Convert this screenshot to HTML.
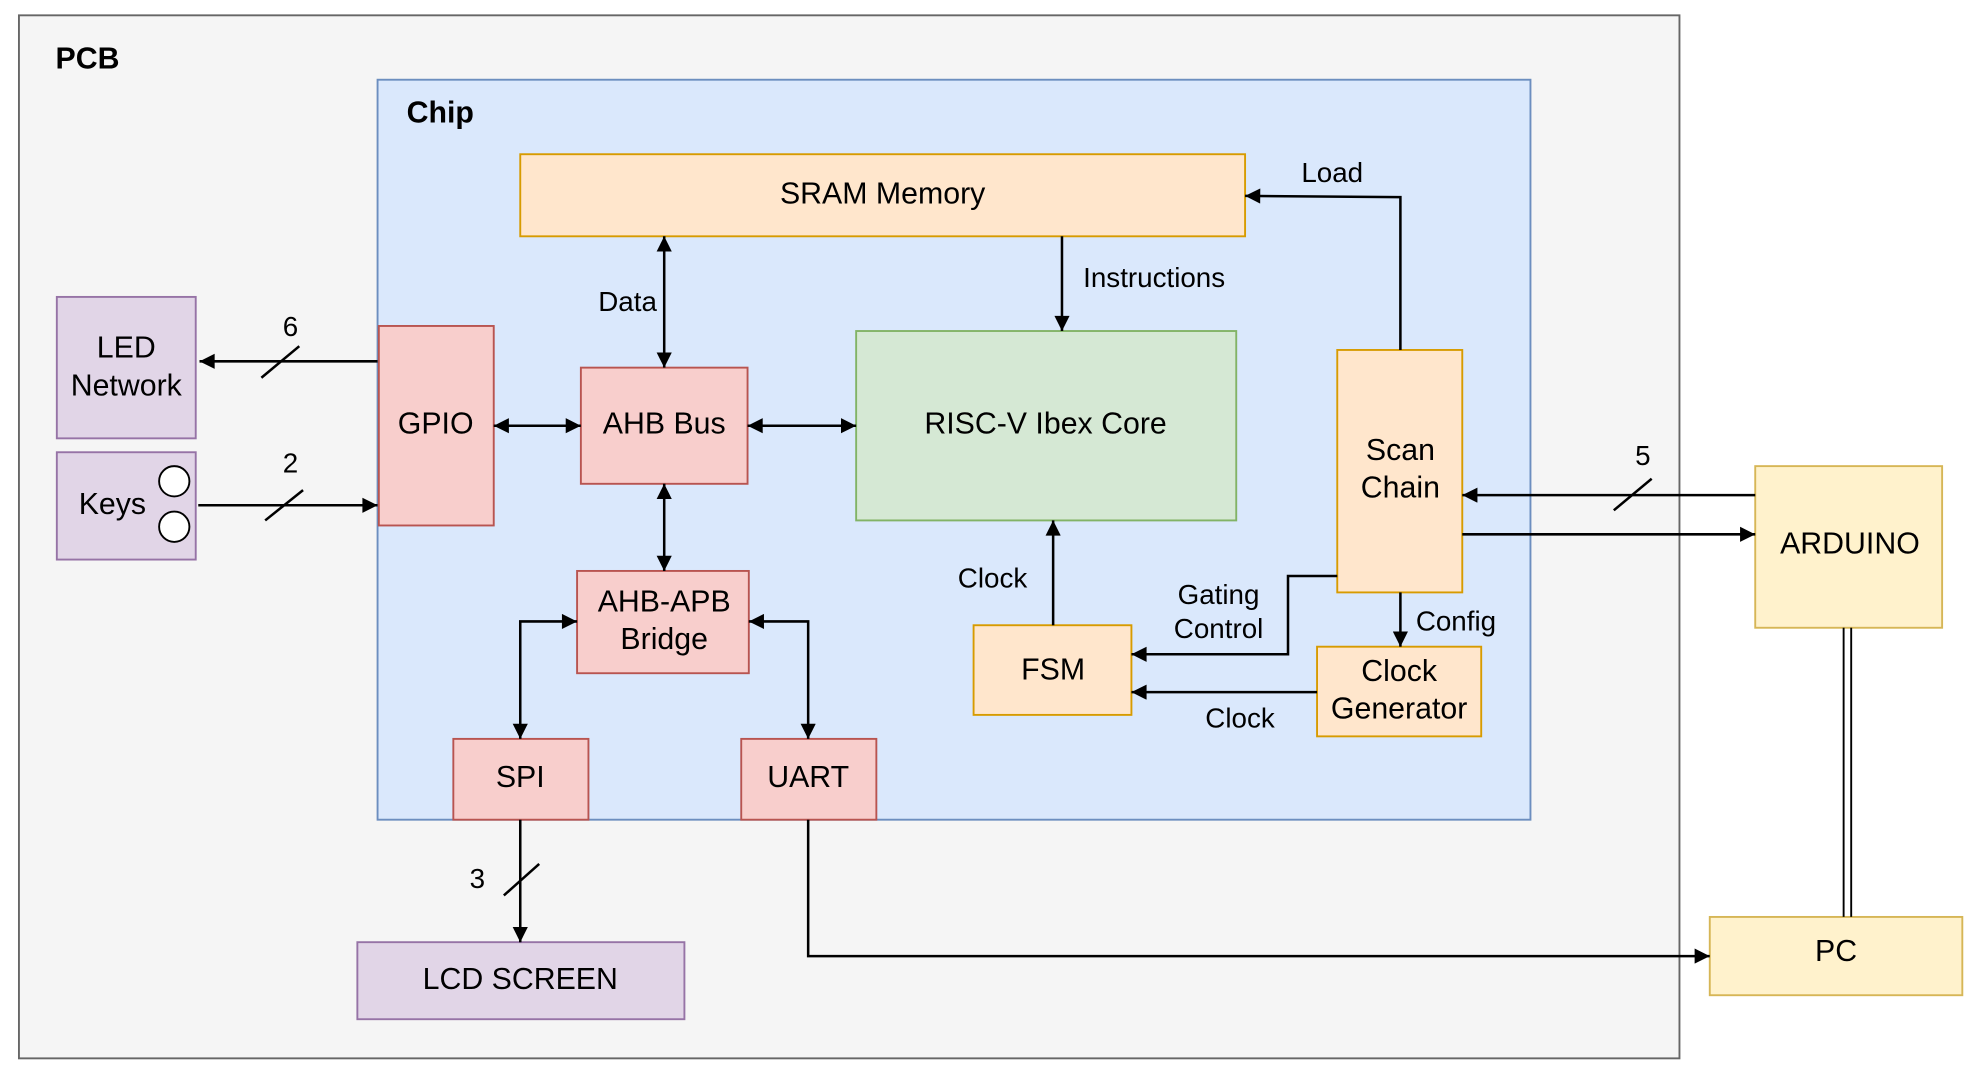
<!DOCTYPE html>
<html><head><meta charset="utf-8"><style>html,body{margin:0;padding:0;background:#fff}svg{display:block}</style></head>
<body>
<svg width="1980" height="1080" viewBox="0 0 1568 855" xmlns="http://www.w3.org/2000/svg" font-family="Liberation Sans, Arial, sans-serif">
<defs>
<marker id="a" viewBox="0 0 10 10" refX="10" refY="5" markerWidth="13" markerHeight="12" markerUnits="userSpaceOnUse" orient="auto-start-reverse"><path d="M0,0 L10,5 L0,10 z" fill="#000"/></marker>
</defs>
<rect x="15" y="12" width="1315" height="826" fill="#f5f5f5" stroke="#666" stroke-width="1.5"/>
<text x="44" y="54" font-size="24" font-weight="bold">PCB</text>
<rect x="299" y="63" width="913" height="586" fill="#dae8fc" stroke="#6c8ebf" stroke-width="1.5"/>
<text x="322" y="97" font-size="24" font-weight="bold">Chip</text>

<g stroke-width="1.5" font-size="24" text-anchor="middle">
<rect x="412" y="122" width="574" height="65" fill="#ffe6cc" stroke="#d79b00"/>
<text x="699" y="161" stroke="none">SRAM Memory</text>
<rect x="678" y="262" width="301" height="150" fill="#d5e8d4" stroke="#82b366"/>
<text x="828" y="343">RISC-V Ibex Core</text>
<rect x="300" y="258" width="91" height="158" fill="#f8cecc" stroke="#b85450"/>
<text x="345" y="343">GPIO</text>
<rect x="460" y="291" width="132" height="92" fill="#f8cecc" stroke="#b85450"/>
<text x="526" y="343">AHB Bus</text>
<rect x="457" y="452" width="136" height="81" fill="#f8cecc" stroke="#b85450"/>
<text x="526" y="484">AHB-APB</text><text x="526" y="514">Bridge</text>
<rect x="359" y="585" width="107" height="64" fill="#f8cecc" stroke="#b85450"/>
<text x="412" y="623">SPI</text>
<rect x="587" y="585" width="107" height="64" fill="#f8cecc" stroke="#b85450"/>
<text x="640" y="623">UART</text>
<rect x="771" y="495" width="125" height="71" fill="#ffe6cc" stroke="#d79b00"/>
<text x="834" y="538">FSM</text>
<rect x="1059" y="277" width="99" height="192" fill="#ffe6cc" stroke="#d79b00"/>
<text x="1109" y="364">Scan</text><text x="1109" y="394">Chain</text>
<rect x="1043" y="512" width="130" height="71" fill="#ffe6cc" stroke="#d79b00"/>
<text x="1108" y="539">Clock</text><text x="1108" y="569">Generator</text>
<rect x="45" y="235" width="110" height="112" fill="#e1d5e7" stroke="#9673a6"/>
<text x="100" y="283">LED</text><text x="100" y="313">Network</text>
<rect x="45" y="358" width="110" height="85" fill="#e1d5e7" stroke="#9673a6"/>
<text x="89" y="407">Keys</text>
<circle cx="138" cy="381" r="12" fill="#fff" stroke="#000"/>
<circle cx="138" cy="417" r="12" fill="#fff" stroke="#000"/>
<rect x="283" y="746" width="259" height="61" fill="#e1d5e7" stroke="#9673a6"/>
<text x="412" y="783">LCD SCREEN</text>
<rect x="1390" y="369" width="148" height="128" fill="#fff2cc" stroke="#d6b656"/>
<text x="1465" y="438">ARDUINO</text>
<rect x="1354" y="726" width="200" height="62" fill="#fff2cc" stroke="#d6b656"/>
<text x="1454" y="761">PC</text>
</g>

<g stroke="#000" stroke-width="2" fill="none">
<line x1="299" y1="286" x2="158" y2="286" marker-end="url(#a)"/>
<line x1="207" y1="299" x2="237" y2="274"/>
<line x1="157" y1="400" x2="299" y2="400" marker-end="url(#a)"/>
<line x1="210" y1="412" x2="240" y2="388"/>
<line x1="391" y1="337" x2="460" y2="337" marker-start="url(#a)" marker-end="url(#a)"/>
<line x1="592" y1="337" x2="678" y2="337" marker-start="url(#a)" marker-end="url(#a)"/>
<line x1="526" y1="187" x2="526" y2="291" marker-start="url(#a)" marker-end="url(#a)"/>
<line x1="841" y1="187" x2="841" y2="262" marker-end="url(#a)"/>
<line x1="526" y1="383" x2="526" y2="452" marker-start="url(#a)" marker-end="url(#a)"/>
<polyline points="457,492 412,492 412,585" marker-start="url(#a)" marker-end="url(#a)"/>
<polyline points="593,492 640,492 640,585" marker-start="url(#a)" marker-end="url(#a)"/>
<line x1="412" y1="649" x2="412" y2="746" marker-end="url(#a)"/>
<line x1="399" y1="709" x2="427" y2="684"/>
<polyline points="640,649 640,757 1354,757" marker-end="url(#a)"/>
<line x1="834" y1="495" x2="834" y2="412" marker-end="url(#a)"/>
<polyline points="1109,277 1109,156 986,155" marker-end="url(#a)"/>
<polyline points="1059,456 1020,456 1020,518 896,518" marker-end="url(#a)"/>
<line x1="1109" y1="469" x2="1109" y2="512" marker-end="url(#a)"/>
<line x1="1043" y1="548" x2="896" y2="548" marker-end="url(#a)"/>
<line x1="1390" y1="392" x2="1158" y2="392" marker-end="url(#a)"/>
<line x1="1278" y1="404" x2="1308" y2="379"/>
<line x1="1158" y1="423" x2="1390" y2="423" marker-end="url(#a)"/>
<line x1="1460" y1="497" x2="1460" y2="726" stroke-width="1.5"/>
<line x1="1466" y1="497" x2="1466" y2="726" stroke-width="1.5"/>
</g>

<g font-size="22" text-anchor="middle">
<text x="230" y="266">6</text>
<text x="230" y="374">2</text>
<text x="378" y="703">3</text>
<text x="1301" y="368">5</text>
<text x="497" y="246">Data</text>
<text x="914" y="227">Instructions</text>
<text x="786" y="465">Clock</text>
<text x="1055" y="144">Load</text>
<text x="965" y="478">Gating</text><text x="965" y="505">Control</text>
<text x="1153" y="499">Config</text>
<text x="982" y="576">Clock</text>
</g>
</svg>
</body></html>
